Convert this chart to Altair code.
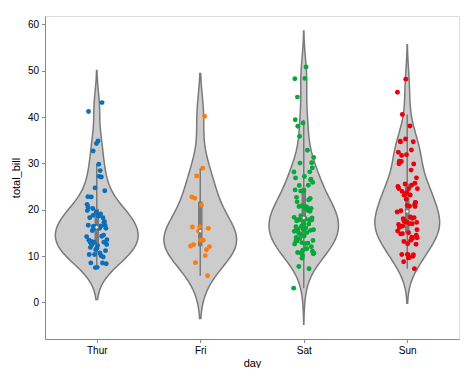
import altair as alt
import numpy as np
import pandas as pd

days = ["Thur", "Fri", "Sat", "Sun"]
colors = ["#0b6fba", "#fb7d0f", "#06a837", "#e8000b"]

thur = [27.20, 22.76, 17.29, 19.44, 16.66, 10.07, 32.68, 15.98, 34.83, 13.03, 18.28, 24.71, 21.16,
        10.65, 12.43, 24.08, 11.69, 13.42, 14.26, 15.95, 12.48, 29.80, 8.52, 14.52, 11.38, 22.82,
        19.08, 20.27, 11.17, 12.26, 18.26, 8.51, 10.33, 14.15, 16.00, 13.16, 17.47, 34.30, 41.19,
        27.05, 16.43, 8.35, 18.64, 11.87, 9.78, 7.51,
        19.81, 28.44, 15.48, 16.58, 7.56, 10.34, 43.11, 13.00, 13.51, 18.71, 12.74, 13.00, 16.40,
        20.53, 16.47, 18.78]
fri = [28.97, 22.49, 5.75, 16.32, 22.75, 40.17, 27.28, 12.03, 21.01, 12.46, 11.35, 15.38,
       12.16, 13.42, 8.58, 15.98, 13.42, 16.27, 10.09]
sat = [20.65, 17.92, 20.29, 15.77, 39.42, 19.82, 17.81, 13.37, 12.69, 21.70, 19.65, 9.55, 18.35,
       15.06, 20.69, 17.78, 24.06, 16.31, 16.93, 18.69, 31.27, 16.04,
       38.01, 26.41, 11.24, 48.27, 20.29, 13.81, 11.02, 18.29, 17.59, 20.08, 16.45, 3.07, 20.23,
       15.01, 12.02, 17.07, 26.86, 25.28, 14.73, 10.51, 17.92,
       44.30, 22.42, 20.92, 15.36, 20.49, 25.21, 18.24, 14.31, 14.00, 7.25,
       10.59, 10.63, 50.81, 15.81,
       26.59, 38.73, 24.27, 12.76, 30.06, 25.89, 48.33, 13.27, 28.17, 12.90, 28.15, 11.59, 7.74, 30.14,
       20.45, 13.28, 22.12, 24.01, 15.69, 11.61, 10.77, 15.53, 10.07, 12.60, 32.83, 35.83, 29.03,
       27.18, 22.67, 17.82]
sun = [16.99, 10.34, 21.01, 23.68, 24.59, 25.29, 8.77, 26.88, 15.04, 14.78, 10.27, 35.26, 15.42,
       18.43, 14.83, 21.58, 10.33, 16.29, 16.97,
       17.46, 13.94, 9.68, 30.40, 18.29, 22.23, 32.40, 28.55, 18.04, 12.54, 10.29, 34.81, 9.94,
       25.56, 19.49,
       38.07, 23.95, 25.71, 17.31, 29.93,
       14.07, 13.13, 17.26, 24.55, 19.77, 29.85, 48.17, 25.00, 13.39, 16.49, 21.50, 12.66, 16.21,
       13.81, 17.51, 24.52, 20.76, 31.71,
       7.25, 31.85, 16.82, 32.90, 17.89, 14.48, 9.60, 34.63, 34.65, 23.33, 45.35, 23.17, 40.55,
       20.69, 20.90, 30.46, 18.15, 23.10, 15.69]

groups = [thur, fri, sat, sun]

rows = []
for i, (d, vals) in enumerate(zip(days, groups)):
    for v in vals:
        rows.append({"day": d, "idx": i, "total_bill": v})
df = pd.DataFrame(rows)

# Scott bandwidth and cut=2 support, like seaborn's violin
params = []
maxd = 0.0
for vals in groups:
    a = np.asarray(vals)
    bw = a.std(ddof=1) * len(a) ** (-0.2)
    lo, hi = a.min() - 2 * bw, a.max() + 2 * bw
    grid = np.linspace(lo, hi, 100)
    dens = np.exp(-0.5 * ((grid[:, None] - a[None, :]) / bw) ** 2).sum(1) / (len(a) * bw * np.sqrt(2 * np.pi))
    maxd = max(maxd, dens.max())
    params.append((bw, lo, hi))

GRAY = "#7a7a7a"
base = alt.Chart(df)

xscale = alt.Scale(domain=[-0.5, 3.5], nice=False, zero=False)
yscale = alt.Scale(domain=[-7.9, 61.8], nice=False, zero=False)
xaxis = alt.Axis(values=[0, 1, 2, 3], labelExpr="['Thur','Fri','Sat','Sun'][datum.value]",
                 grid=False, title="day", tickSize=3.5, labelPadding=3, titlePadding=2,
                 titleFontWeight="normal")
yaxis = alt.Axis(values=[0, 10, 20, 30, 40, 50, 60], grid=False, title="total_bill",
                 tickSize=3.5, labelPadding=3, titlePadding=6, titleFontWeight="normal")

layers = []
for i, d in enumerate(days):
    bw, lo, hi = params[i]
    v = (base.transform_filter(alt.datum.day == d)
         .transform_density("total_bill", as_=["total_bill", "density"], bandwidth=float(bw),
                            extent=[float(lo), float(hi)], steps=100)
         .transform_calculate(left=f"{i} - datum.density / {maxd} * 0.4",
                              right=f"{i} + datum.density / {maxd} * 0.4")
         .mark_area(orient="horizontal", fill="#cccccc", stroke=GRAY, strokeWidth=1.5)
         .encode(y=alt.Y("total_bill:Q", scale=yscale, axis=yaxis),
                 x=alt.X("left:Q", scale=xscale, axis=xaxis),
                 x2="right:Q"))
    layers.append(v)

whisk = (base.transform_joinaggregate(q1="q1(total_bill)", q3="q3(total_bill)", groupby=["day"])
         .transform_filter("datum.total_bill >= datum.q1 - 1.5*(datum.q3-datum.q1) && datum.total_bill <= datum.q3 + 1.5*(datum.q3-datum.q1)")
         .transform_aggregate(lo="min(total_bill)", hi="max(total_bill)", groupby=["day", "idx"])
         .mark_rule(color=GRAY, strokeWidth=1.5)
         .encode(x="idx:Q", y="lo:Q", y2="hi:Q"))
box = (base.transform_aggregate(q1="q1(total_bill)", q3="q3(total_bill)", groupby=["day", "idx"])
       .mark_rule(color=GRAY, strokeWidth=4.5)
       .encode(x="idx:Q", y="q1:Q", y2="q3:Q"))

pts = (base.transform_window(rn="row_number()", groupby=["day"])
       .transform_calculate(jx="datum.idx + ((datum.rn * 0.6180339887) % 1 - 0.5) * 0.2")
       .mark_circle(size=24, opacity=1)
       .encode(x="jx:Q", y="total_bill:Q",
               color=alt.Color("day:N", scale=alt.Scale(domain=days, range=colors), legend=None)))

med = (base.transform_aggregate(m="median(total_bill)", groupby=["day", "idx"])
       .mark_point(filled=True, fill="white", stroke=GRAY, strokeWidth=1, size=12, opacity=1)
       .encode(x="idx:Q", y="m:Q"))

chart = alt.layer(*layers, whisk, box, pts, med).properties(
    width=414, height=323,
    autosize="none",
    padding={"left": 37, "top": 8, "right": 7, "bottom": 29},
).configure_view(stroke="#333333", strokeWidth=1).configure_axis(
    labelFont="DejaVu Sans", titleFont="DejaVu Sans", labelFontSize=10, titleFontSize=10,
    labelColor="#222222", titleColor="#222222", tickColor="#333333", domain=False,
).configure(background="white")

chart.save("out.html", embed_options={"renderer": "svg", "actions": False})
